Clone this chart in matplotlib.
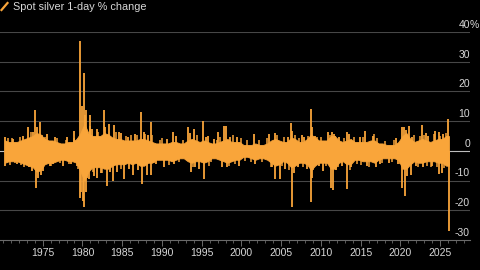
import numpy as np
import matplotlib.pyplot as plt
from matplotlib.lines import Line2D

plt.rcParams['font.family'] = ['Liberation Sans', 'DejaVu Sans']

ORANGE = '#f9a53a'
GRID = '#474747'
TEXT = '#d8d8d8'

# half-year periods: typical top / bottom of the dense band of daily moves (%)
half_years = np.arange(1970.0, 2026.0, 0.5)
core_hi = [3.5, 3, 3, 3, 3.5, 4, 4.5, 5, 6, 5.5,      # 1970-74
           4, 3.5, 3.5, 3, 2.5, 2.5, 3, 3, 4, 6,      # 1975-79
           9, 6, 5, 5, 5, 6, 5.5, 4.5, 4, 4,          # 1980-84
           3.5, 3.5, 3.5, 3.5, 4, 4, 3.5, 3, 2.5, 2.5,  # 1985-89
           2.5, 2.5, 3, 3, 2.5, 2.5, 3.5, 4, 3.5, 3,  # 1990-94
           3.5, 3, 2.5, 2.5, 3, 3.5, 4, 3, 3, 3,      # 1995-99
           2, 2, 2, 2.5, 2, 2, 2.5, 3.5, 4, 3.5,      # 2000-04
           3, 3, 4.5, 4, 3, 3, 4, 5.5, 4.5, 3.5,      # 2005-09
           3.5, 3.5, 5, 5, 3.5, 3, 3.5, 4, 3, 3,      # 2010-14
           3, 3, 3.5, 3.5, 2.5, 2.5, 2, 2, 2, 3,      # 2015-19
           5, 6, 4, 3, 3.5, 4, 3.5, 3, 3.5, 4,        # 2020-24
           4, 5]                                      # 2025
core_lo = [-4, -3.5, -3.5, -3.5, -4, -4.5, -5, -5.5, -7, -6.5,
           -4.5, -4, -4, -3.5, -3, -3, -3.5, -3.5, -4, -7,
           -10, -7, -5.5, -5.5, -5.5, -6, -6, -5, -4.5, -4.5,
           -4.5, -4, -4.5, -4, -5, -5, -4, -4, -3, -3,
           -3, -3, -3.5, -3, -2.5, -2.5, -3.5, -4, -3.5, -3.5,
           -4, -3.5, -2.5, -2.5, -3, -3.5, -4, -3.5, -3, -3,
           -2, -2, -2.5, -3, -2.5, -2.5, -3, -4, -5, -4.5,
           -3.5, -4, -5.5, -5, -4, -4, -4.5, -6.5, -5, -4,
           -4, -4, -6, -6, -4, -3.5, -4.5, -4.5, -3, -3,
           -3.5, -3.5, -3.5, -4, -3, -2.5, -2.5, -2.5, -2.5, -3,
           -6, -6, -4.5, -3.5, -4, -4, -3.5, -3.5, -3.5, -4,
           -4, -5]

# larger single-day moves standing out of the band (decimal year, % change)
spike_year = [1970.25, 1970.27, 1971.3, 1971.8, 1972.5, 1972.9, 1973.1, 1973.3,
              1973.6, 1973.8, 1974.05, 1974.1, 1974.3, 1974.45, 1974.6, 1974.8,
              1975.1, 1975.6, 1975.9, 1976.3, 1976.5, 1977.5, 1978.1, 1978.6,
              1979.0, 1979.3, 1979.7, 1979.72, 1979.85, 1979.95, 1980.1, 1980.2,
              1980.22, 1980.35, 1980.45, 1980.5, 1980.6, 1980.8, 1980.9, 1981.0,
              1981.2, 1981.5, 1981.8, 1981.85, 1982.3, 1982.7, 1982.9, 1983.1,
              1983.3, 1983.5, 1983.8, 1984.0, 1984.3, 1984.6, 1984.9, 1985.2,
              1985.7, 1985.9, 1986.4, 1986.6, 1987.0, 1987.4, 1987.45, 1987.7,
              1988.1, 1988.3, 1988.6, 1988.65, 1989.3, 1990.2, 1990.6, 1991.35,
              1991.5, 1991.8, 1993.3, 1993.5, 1993.7, 1994.0, 1994.2, 1994.6,
              1995.2, 1995.25, 1995.6, 1995.8, 1996.6, 1997.1, 1997.5, 1997.8,
              1998.1, 1998.2, 1998.6, 1999.5, 1999.7, 2001.6, 2001.65, 2003.5,
              2003.9, 2004.2, 2004.25, 2004.85, 2005.5, 2005.9, 2006.2, 2006.3,
              2006.4, 2006.6, 2007.1, 2007.6, 2007.9, 2008.2, 2008.7, 2008.75,
              2008.85, 2008.9, 2009.2, 2009.7, 2010.3, 2010.9, 2011.25, 2011.35,
              2011.55, 2011.6, 2011.9, 2012.3, 2012.7, 2013.25, 2013.3, 2013.5,
              2013.8, 2014.9, 2015.6, 2015.8, 2016.5, 2016.9, 2017.4, 2018.5,
              2019.5, 2019.7, 2020.2, 2020.25, 2020.5, 2020.6, 2020.75, 2020.8,
              2021.1, 2021.3, 2021.5, 2021.9, 2022.7, 2022.9, 2023.2, 2023.5,
              2024.0, 2024.4, 2024.8, 2024.85, 2025.2, 2025.3, 2025.8, 2025.95,
              2026.08]
spike_pct = [4.5, -5, 4, -4.5, 5, -4.5, 7.9, -5.5,
             -6.8, 6.5, 13.6, -12.4, 8, -9, 9.6, -8,
             -6.8, 5.6, -5, -4.5, 4.7, -5, 4.7, -4.5,
             6.8, -5, 36.9, -15.8, -14, 15, -17, 26.2,
             -19, 12, -14, 13.6, -9, -9.5, 11.9, 8.5,
             7.5, -8.5, 7.3, -9, -7.5, 13.8, 8, -11.9,
             9, -7, -10, 8.8, -7, 6.5, 6, -9.6,
             4.7, -6, -8.1, 5.6, -6.5, 13, -11.1, 6.5,
             -8, 5.5, 9.6, -8.1, -4.5, -5.6, 4, 6.2,
             -4.5, 5, 7.9, 6, -7, 7.3, -5.5, -6,
             10.2, -9.4, 4.5, 5, 4, 6.2, -5.6, 8.5,
             8.5, -5.6, 4.5, 4.5, -5, 5.6, -4.5, 5.6,
             -5.5, 6, -9.6, -9.6, -6.2, 4.5, 9.3, -19,
             6.8, -7.5, -5.5, 5.5, 4.5, -6, 14.1, -17.3,
             -9, 7.9, 5, -5, -6.8, 6.2, -12.4, 6.5,
             -13.3, 5.6, -6.5, 4.5, -5, -12.8, 6.2, 5.6,
             -5.5, 4.5, 6.8, -5, 5, -5.5, -4.5, -4,
             4.3, -4.5, -12.4, 7.9, 7.9, -15.3, 7, -8.5,
             8.4, -8, 4.5, -5, 8.8, -5.5, 6, 5,
             -5, 6.8, 6.5, -7.8, -7.3, 5.6, 5, 10.6,
             -27]

# smaller moves that give the band its ragged edge
edge_year = [1970.6, 1970.9, 1971.1, 1971.5, 1972.1, 1972.3, 1972.7, 1973.5,
             1974.9, 1975.3, 1976.0, 1976.8, 1977.2, 1977.9, 1978.3, 1978.9,
             1979.5, 1981.3, 1982.0, 1982.5, 1984.2, 1984.8, 1985.5, 1986.1,
             1986.9, 1987.9, 1988.8, 1989.0, 1989.7, 1990.0, 1990.9, 1992.2,
             1992.7, 1993.9, 1994.4, 1995.9, 1996.2, 1996.9, 1997.3, 1998.4,
             1998.9, 1999.2, 1999.9, 2000.4, 2000.7, 2001.2, 2002.2, 2002.6,
             2003.2, 2003.7, 2004.5, 2005.1, 2005.3, 2006.0, 2006.8, 2007.3,
             2007.8, 2008.4, 2009.0, 2009.5, 2010.0, 2010.6, 2011.1, 2011.8,
             2012.1, 2012.9, 2013.6, 2014.2, 2014.5, 2015.1, 2015.3, 2016.1,
             2016.7, 2017.1, 2017.7, 2018.1, 2018.9, 2019.2, 2019.9, 2021.7,
             2022.2, 2022.5, 2023.0, 2023.3, 2023.8, 2024.2, 2024.6, 2025.0,
             2025.5, 2025.7]
edge_pct = [4.2, -4.6, 4.4, -4.2, 4.6, -4.8, -5.6, 6.2,
            5.5, 4.8, -5.2, 4.2, -4.0, 3.8, -4.4, 4.3,
            -6, -7, 6.5, -7.5, 6.5, -6, 5, 5.5,
            5.2, 5.8, 5.3, -4.2, 3.8, 4.3, -4.8, -3.8,
            3.8, -5.5, 5.5, -5.0, -3.8, 3.8, 4.8, -5.0,
            5.2, -4.5, 4.2, -3.5, 3.5, -3.8, 3.5, -3.8,
            4.2, -5.5, 5.2, -5, 4.5, -6.5, 5.5, 4.2,
            -5.5, 5, -6.5, 4.8, 4.5, -5.2, 5.5, 5,
            -5.5, 4.2, -6.5, 4.5, -4.4, -4.8, 4.6, -5.4,
            5.8, 4.2, -4.0, 3.4, -3.8, 3.6, -4.5, 5.2,
            -5.6, 5.0, 5.4, -5.0, -5.4, 5.6, -5.6, 5.0,
            -5.8, 6.0]

yticks = [-30, -20, -10, 0, 10, 20, 30, 40]
major_years = np.arange(1975, 2026, 5)
minor_years = np.arange(1970, 2029, 1)

fig = plt.figure(figsize=(4.8, 2.7), dpi=100, facecolor='black')
ax = fig.add_axes([0, 30 / 270, 470 / 480, 208 / 270], facecolor='black')

# grid
for v in yticks[1:]:
    ax.axhline(v, color='#bdbdbd' if v == 0 else GRID, lw=0.8, zorder=1)

# dense band of daily moves, then the individual days that stick out
x_mid = np.concatenate([[1970.25], half_years + 0.25, [2026.1]])
hi = np.concatenate([[core_hi[0]], core_hi, [core_hi[-1]]])
lo = np.concatenate([[core_lo[0]], core_lo, [core_lo[-1]]])
ax.fill_between(x_mid, lo, hi, color=ORANGE, lw=0.6, edgecolor=ORANGE, zorder=2)
ax.vlines(edge_year, 0, edge_pct, color=ORANGE, lw=1.1, zorder=3)
ax.vlines(spike_year, 0, spike_pct, color=ORANGE, lw=1.3, zorder=3)

ax.set_xlim(1969.63, 2028.75)
ax.set_ylim(-30, 40)

for s in ['top', 'left', 'right']:
    ax.spines[s].set_visible(False)
ax.spines['bottom'].set_color('#6a6a6a')
ax.spines['bottom'].set_linewidth(0.8)

ax.set_xticks(major_years)
ax.set_xticklabels([str(y) for y in major_years])
ax.set_xticks(minor_years, minor=True)
ax.tick_params(axis='x', which='major', length=4, width=0.7, color='#6a6a6a',
               labelcolor=TEXT, labelsize=7.5, pad=2)
ax.tick_params(axis='x', which='minor', length=2, width=0.6, color='#6a6a6a')
ax.set_yticks([])

# right-hand labels sitting on top of their grid lines
for v in yticks:
    ax.annotate(str(v), xy=(1, v), xycoords=('axes fraction', 'data'),
                xytext=(0, 1.5), textcoords='offset points',
                ha='right', va='bottom', color=TEXT, fontsize=7.5)
ax.annotate('%', xy=(1, 40), xycoords=('axes fraction', 'data'),
            xytext=(0, 1.5), textcoords='offset points',
            ha='left', va='bottom', color=TEXT, fontsize=7.5, annotation_clip=False)

# title with legend swatch
fig.add_artist(Line2D([1.5 / 480, 7.5 / 480], [1 - 10 / 270, 1 - 3 / 270],
                      transform=fig.transFigure, color=ORANGE, lw=1.6))
fig.text(13 / 480, 1 - 6.5 / 270, 'Spot silver 1-day % change', color=TEXT,
         fontsize=7.8, ha='left', va='center')

fig.savefig('out.png', dpi=100, facecolor='black')
